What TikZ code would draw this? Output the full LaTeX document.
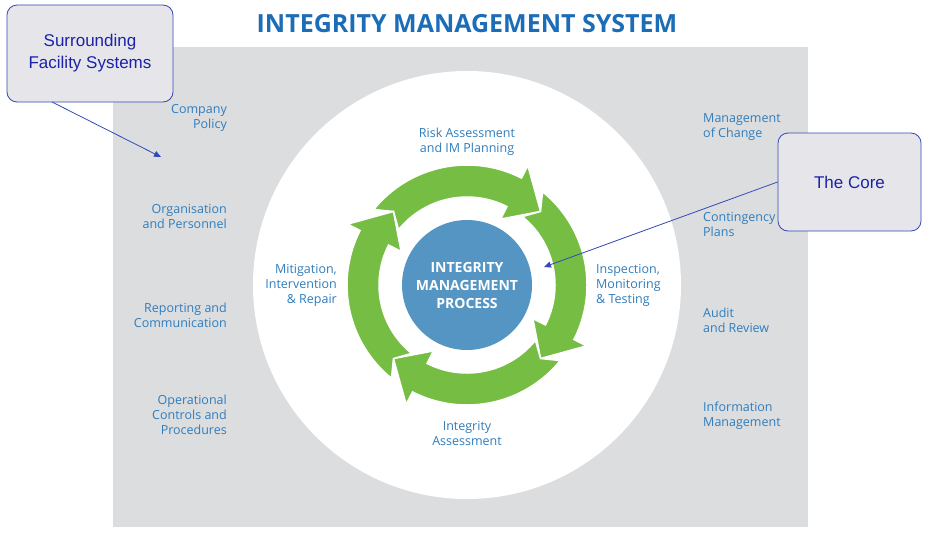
\documentclass[tikz,border=0pt]{standalone}
\usepackage{fontspec}
\setmainfont{Open Sans}
\newfontfamily\callfont{Liberation Sans}
\usetikzlibrary{arrows.meta}
\definecolor{lblue}{HTML}{2F7DBD}
\definecolor{tblue}{HTML}{1C6DB8}
\definecolor{cgreen}{HTML}{76BE43}
\definecolor{cblue}{HTML}{5595C3}
\definecolor{bgray}{HTML}{DCDDDF}
\definecolor{callfill}{HTML}{E6E6EA}
\definecolor{callline}{HTML}{3448B8}
\definecolor{calltext}{HTML}{1A22A8}
\tikzset{
  lab/.style={text=lblue,font=\fontsize{12.5}{15}\selectfont,inner sep=0pt},
  labl/.style={lab,align=right,anchor=east},
  labr/.style={lab,align=left,anchor=west},
  labc/.style={lab,align=center},
  callbox/.style={draw=callline,fill=callfill,rounded corners=10pt,line width=0.8pt,text=calltext,font=\callfont\fontsize{17}{22}\selectfont,align=center,inner sep=0pt},
  callarrow/.style={draw=callline,line width=0.8pt,-{Triangle[length=7pt,width=6pt]}}
}
\begin{document}
\begin{tikzpicture}[x=1pt,y=-1pt]
\useasboundingbox (0,0) rectangle (933,535);
\fill[bgray] (113,47) rectangle (808,527);
\node[text=tblue,font=\bfseries\fontsize{25}{28}\selectfont,inner sep=0pt] (title) at (467,24) {INTEGRITY MANAGEMENT SYSTEM};
\fill[white] (467,285) circle[radius=214];
\begin{scope}[shift={(467,285)}]
\foreach \h in {-45,45,135,225}{
  \pgfmathsetmacro{\a}{\h-96}
  \pgfmathsetmacro{\b}{\h-18}
  \pgfmathsetmacro{\n}{\h-90}
  \filldraw[fill=cgreen,draw=white,line width=1.5pt,line join=miter] (\a:120) arc[start angle=\a,end angle=\b,radius=120] -- (\b:134) -- (\h:104) -- (\b:74) -- (\b:88) arc[start angle=\b,end angle=\a,radius=88] -- (\n:104) -- cycle;
}
\end{scope}
\node[circle,fill=cblue,minimum size=130pt,inner sep=0pt,text=white,font=\bfseries\fontsize{14}{18}\selectfont,align=center] (imp) at (467,285) {INTEGRITY\\MANAGEMENT\\PROCESS};
\node[labc] (risk) at (467,142) {Risk Assessment\\and IM Planning};
\node[labr] (insp) at (596,285) {Inspection,\\Monitoring\\\& Testing};
\node[labc] (ia) at (467,433) {Integrity\\Assessment};
\node[labl] (mit) at (337,285) {Mitigation,\\Intervention\\\& Repair};
\node[labl] (cp) at (227,118) {Company\\Policy};
\node[labl] (op) at (227,216) {Organisation\\and Personnel};
\node[labl] (rc) at (227,315) {Reporting and\\Communication};
\node[labl] (oc) at (227,415) {Operational\\Controls and\\Procedures};
\node[labr] (moc) at (703,127) {Management\\of Change};
\node[labr] (cop) at (703,224) {Contingency\\Plans};
\node[labr] (aud) at (703,320) {Audit\\and Review};
\node[labr] (inf) at (703,416) {Information\\Management};
\node[callbox,minimum width=166pt,minimum height=97pt] (sfs) at (90,53.5) {Surrounding\\Facility Systems};
\node[callbox,minimum width=143pt,minimum height=98pt] (core) at (849.5,182) {The Core};
\coordinate (sfsEnd) at (161,157);
\coordinate (coreEnd) at (544,267);
\draw[callarrow] (52,102) -- (sfsEnd);
\draw[callarrow] (core.west) -- (coreEnd);
\end{tikzpicture}
\end{document}
